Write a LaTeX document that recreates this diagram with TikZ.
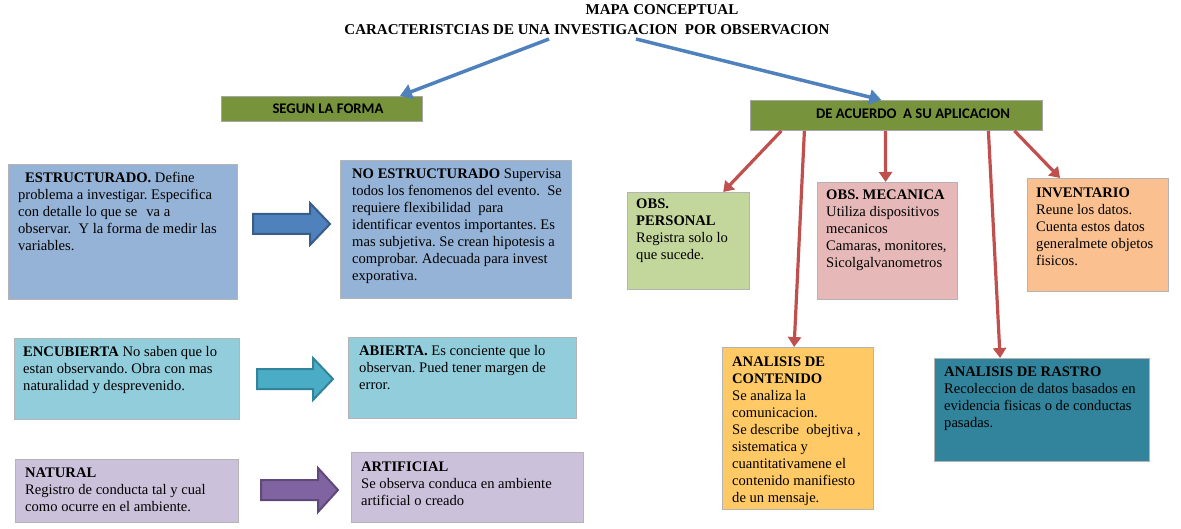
\documentclass[tikz,border=0pt]{standalone}
\usepackage{fontspec}
\setmainfont{Liberation Serif}
\newfontfamily\hdrfont{Carlito}
\usetikzlibrary{arrows.meta,calc}
\definecolor{boxline}{HTML}{B4B4B4}
\definecolor{cBlue}{HTML}{95B3D7}
\definecolor{cAqua}{HTML}{92CDDC}
\definecolor{cLila}{HTML}{CCC1DA}
\definecolor{cGreen}{HTML}{C3D69B}
\definecolor{cRose}{HTML}{E6B9B8}
\definecolor{cOrange}{HTML}{FAC090}
\definecolor{cGold}{HTML}{FFCA66}
\definecolor{cTeal}{HTML}{31849B}
\definecolor{cHdr}{HTML}{77933C}
\definecolor{cRedArr}{HTML}{C0504D}
\definecolor{cBlueArr}{HTML}{4F81BD}
\definecolor{aBlueF}{HTML}{4F81BD}
\definecolor{aBlueD}{HTML}{385D8A}
\definecolor{aAquaF}{HTML}{4BACC6}
\definecolor{aAquaD}{HTML}{31849B}
\definecolor{aLilaF}{HTML}{8064A2}
\definecolor{aLilaD}{HTML}{5F497A}
\newcommand\st{\rule{0pt}{11pt}}
\frenchspacing
\begin{document}
\begin{tikzpicture}[x=1pt,y=-1pt,
  box/.style={draw=boxline, line width=1.2pt, inner sep=0pt, anchor=north west},
  hdr/.style={draw=gray!70, line width=0.8pt, fill=cHdr, inner sep=0pt, anchor=north west},
  txt/.style={anchor=north west, inner sep=0pt, align=left, font=\fontsize{14.6}{17}\selectfont},
  hdrtxt/.style={anchor=base, inner sep=0pt, font=\hdrfont\bfseries\fontsize{14.7}{17}\selectfont},
  ttl/.style={anchor=base, inner sep=0pt, font=\bfseries\fontsize{15}{18}\selectfont},
  redarr/.style={draw=cRedArr, line width=3.2pt, -{Triangle[width=13pt,length=10pt]}},
  bluearr/.style={draw=cBlueArr, line width=3.5pt, -{Triangle[width=15pt,length=12pt]}},
  blockarr/.style={line width=2pt, line join=miter}]
\useasboundingbox (0,0) rectangle (1181,529);

% titles
\node[ttl] (title1) at (662,15) {MAPA CONCEPTUAL};
\node[ttl] (title2) at (587,35) {CARACTERISTCIAS DE UNA INVESTIGACION\ \ POR OBSERVACION};

% headers
\node[hdr, minimum width=201pt, minimum height=25pt] (forma) at (221,96) {};
\node[hdrtxt] (formaT) at (328,114) {SEGUN LA FORMA};
\node[hdr, minimum width=292pt, minimum height=30pt] (acuerdo) at (750,100) {};
\node[hdrtxt] (acuerdoT) at (913,119) {DE ACUERDO\ \ A SU APLICACION};

% blue arrows
\coordinate (s1) at (549,39);
\coordinate (s2) at (636,39);
\draw[bluearr] (s1) -- ([xshift=78pt]forma.north);
\draw[bluearr] (s2) -- ([xshift=-15pt]acuerdo.north);

% left boxes
\node[box, fill=cBlue, minimum width=229pt, minimum height=135pt] (estr) at (8,164) {};
\node[txt] (estrT) at (18,171) {\st\hspace{7pt}\textbf{ESTRUCTURADO.} Define\\
problema a investigar. Especifica\\
con detalle lo que se\hspace{9pt}va a\\
observar.\ \ Y la forma de medir las\\
variables.};
\node[box, fill=cBlue, minimum width=231pt, minimum height=138pt] (noestr) at (340,160) {};
\node[txt] (noestrT) at (352,167) {\st\textbf{NO ESTRUCTURADO} Supervisa\\
todos los fenomenos del evento.\ \ Se\\
requiere flexibilidad\ \ para\\
identificar eventos importantes. Es\\
mas subjetiva. Se crean hipotesis a\\
comprobar. Adecuada para invest\\
exporativa.};

\node[box, fill=cAqua, minimum width=225pt, minimum height=81pt] (encu) at (14,338) {};
\node[txt] (encuT) at (23,345) {\st\textbf{ENCUBIERTA} No saben que lo\\
estan observando. Obra con mas\\
naturalidad y desprevenido.};
\node[box, fill=cAqua, minimum width=228pt, minimum height=81pt] (abie) at (348,337) {};
\node[txt] (abieT) at (359,344) {\st\textbf{ABIERTA.} Es conciente que lo\\
observan. Pued tener margen de\\
error.};

\node[box, fill=cLila, minimum width=223pt, minimum height=63pt] (natu) at (15,459) {};
\node[txt] (natuT) at (25,466) {\st\textbf{NATURAL}\\
Registro de conducta tal y cual\\
como ocurre en el ambiente.};
\node[box, fill=cLila, minimum width=232pt, minimum height=70pt] (arti) at (351,452) {};
\node[txt] (artiT) at (361,460) {\st\textbf{ARTIFICIAL}\\
Se observa conduca en ambiente\\
artificial o creado};

% block arrows
\draw[blockarr, fill=aBlueF, draw=aBlueD] (253,214) -- (310,214) -- (310,203) -- (330,224) -- (310,245) -- (310,234) -- (253,234) -- cycle;
\draw[blockarr, fill=aAquaF, draw=aAquaD] (257,369) -- (313,369) -- (313,358) -- (333,379) -- (313,400) -- (313,389) -- (257,389) -- cycle;
\draw[blockarr, fill=aLilaF, draw=aLilaD] (261,480) -- (318,480) -- (318,468) -- (338,490) -- (318,512) -- (318,500) -- (261,500) -- cycle;

% right boxes
\node[box, fill=cGreen, minimum width=122pt, minimum height=97pt] (pers) at (627,192) {};
\node[txt] (persT) at (636,197) {\st\textbf{OBS.}\\
\textbf{PERSONAL}\\
Registra solo lo\\
que sucede.};
\node[box, fill=cRose, minimum width=140pt, minimum height=117pt] (mec) at (817,182) {};
\node[txt] (mecT) at (826,188) {\st\textbf{OBS. MECANICA}\\
Utiliza dispositivos\\
mecanicos\\
Camaras, monitores,\\
Sicolgalvanometros};
\node[box, fill=cOrange, minimum width=141pt, minimum height=113pt] (inv) at (1027,178) {};
\node[txt] (invT) at (1036,186) {\st\textbf{INVENTARIO}\\
Reune los datos.\\
Cuenta estos datos\\
generalmete objetos\\
fisicos.};
\node[box, fill=cGold, minimum width=151pt, minimum height=162pt] (cont) at (722,347) {};
\node[txt] (contT) at (732,355) {\st\textbf{ANALISIS DE}\\
\textbf{CONTENIDO}\\
Se analiza la\\
comunicacion.\\
Se describe\ \ obejtiva ,\\
sistematica y\\
cuantitativamene el\\
contenido manifiesto\\
de un mensaje.};
\node[box, fill=cTeal, minimum width=215pt, minimum height=103pt] (rastro) at (934,358) {};
\node[txt] (rastroT) at (944,365) {\st\textbf{ANALISIS DE RASTRO}\\
Recoleccion de datos basados en\\
evidencia fisicas o de conductas\\
pasadas.};

% red arrows
\draw[redarr] ([xshift=-115pt]acuerdo.south) -- ([xshift=-27pt]pers.north east);
\draw[redarr] ([xshift=-92pt]acuerdo.south) -- ([xshift=-4pt]cont.north);
\draw[redarr] ([xshift=-11pt]acuerdo.south) -- ([xshift=-2pt]mec.north);
\draw[redarr] ([xshift=92pt]acuerdo.south) -- ([xshift=-42pt]rastro.north);
\draw[redarr] ([xshift=118pt]acuerdo.south) -- ([xshift=33pt]inv.north west);
\end{tikzpicture}
\end{document}
